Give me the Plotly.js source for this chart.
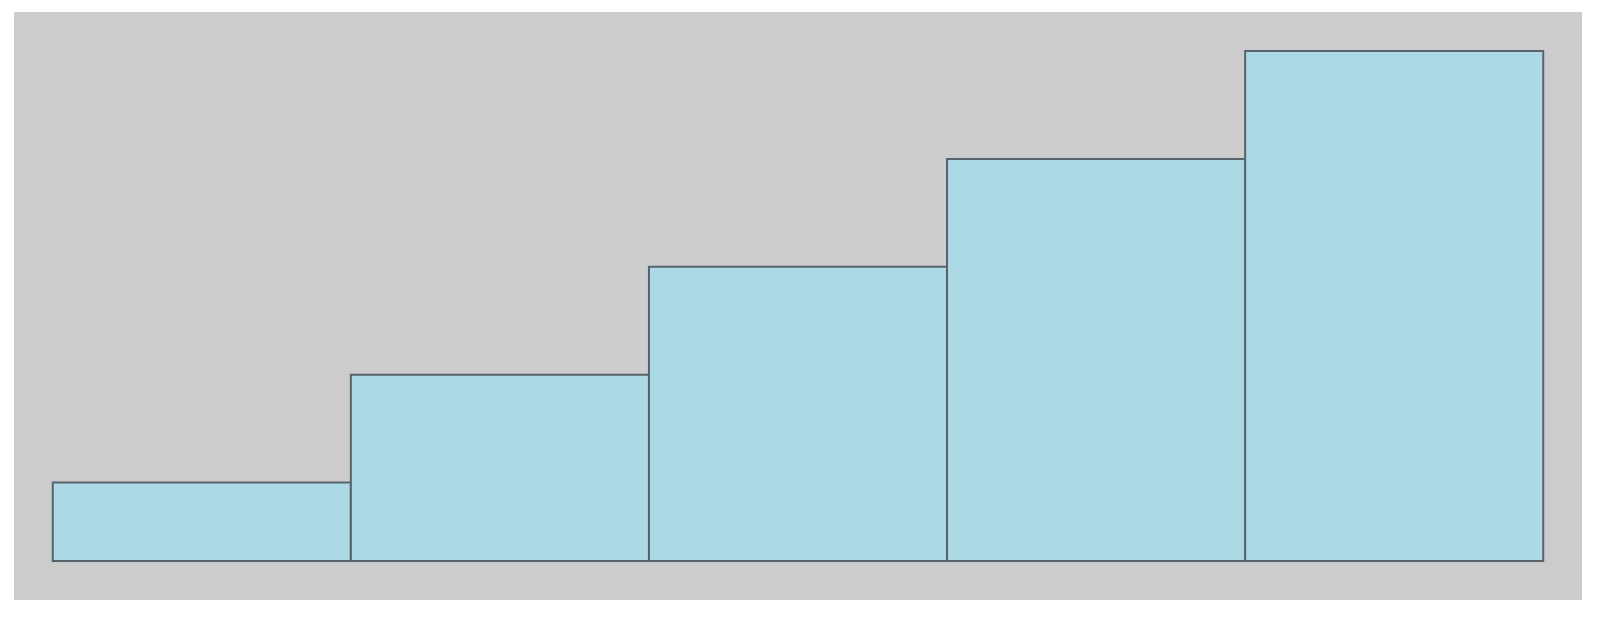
<!DOCTYPE html>
<html>
<head>
<meta charset="utf-8">
<script src="https://cdn.plot.ly/plotly-3.0.1.min.js"></script>
<style>html,body{margin:0;padding:0;background:#fff;}#chart{width:1600px;height:620px;}</style>
</head>
<body>
<div id="chart"></div>
<script>
const categories = ["A", "B", "C", "D", "E"];
const values = [8, 19, 30, 41, 52];

const trace = {
  type: "bar",
  x: categories,
  y: values,
  marker: { color: "#add8e6", line: { color: "#56636a", width: 2 } },
  hoverinfo: "none"
};

const layout = {
  width: 1600,
  height: 620,
  margin: { l: 14, r: 18, t: 12, b: 20, pad: 0 },
  paper_bgcolor: "#ffffff",
  plot_bgcolor: "#cccccc",
  bargap: 0,
  showlegend: false,
  xaxis: { type: "category", range: [-0.63, 4.63], showgrid: false, zeroline: false, showticklabels: false, showline: false, ticks: "" },
  yaxis: { range: [-3.98, 55.98], showgrid: false, zeroline: false, showticklabels: false, showline: false, ticks: "" }
};

Plotly.newPlot("chart", [trace], layout, { displayModeBar: false, staticPlot: true });
</script>
</body>
</html>
